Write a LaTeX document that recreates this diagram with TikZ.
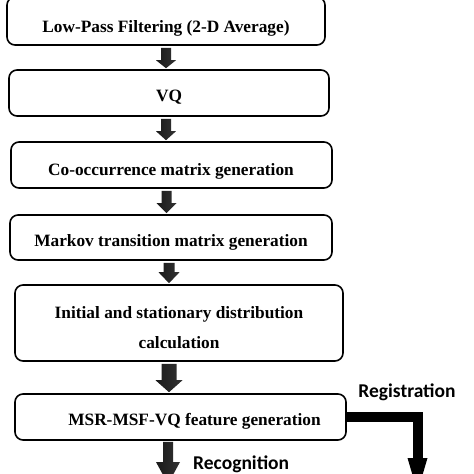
\documentclass[tikz,border=0pt]{standalone}
\usepackage{fontspec}
\setmainfont{Liberation Serif}
\newfontfamily\labelfont{Carlito}
\usetikzlibrary{calc}
\begin{document}
\begin{tikzpicture}[x=1pt,y=-1pt,
  stagebox/.style={draw=black, line width=1.6pt, rounded corners=8pt, inner sep=0pt, fill=white},
  steptext/.style={font=\bfseries\fontsize{17.3}{20}\selectfont, inner sep=0pt, anchor=base},
  sidelabel/.style={font=\labelfont\bfseries\fontsize{19.5}{22}\selectfont, inner sep=0pt, anchor=base},
  blockshade/.style={left color=black!90, middle color=black!45, right color=black!80},
  regline/.style={line width=10pt, line join=miter, draw=black}]
\useasboundingbox (0,0) rectangle (474,474);
\fill[white] (0,0) rectangle (474,474);

% boxes
\node[stagebox, minimum width=318pt, minimum height=48pt] (b1) at (166,21) {};
\node[stagebox, minimum width=320pt, minimum height=46pt] (b2) at (169,93) {};
\node[stagebox, minimum width=321pt, minimum height=46pt] (b3) at (171.5,165) {};
\node[stagebox, minimum width=322pt, minimum height=45pt] (b4) at (171,237.5) {};
\node[stagebox, minimum width=328pt, minimum height=76pt] (b5) at (179,323) {};
\node[stagebox, minimum width=331pt, minimum height=46pt] (b6) at (180.5,417) {};

% texts
\node[steptext] (t1) at (166,32) {Low-Pass Filtering (2-D Average)};
\node[steptext] (t2) at (169,101) {VQ};
\node[steptext] (t3) at (171,175) {Co-occurrence matrix generation};
\node[steptext] (t4) at (171,246) {Markov transition matrix generation};
\node[steptext] (t5a) at (179,318) {Initial and stationary distribution};
\node[steptext] (t5b) at (179,348) {calculation};
\node[steptext] (t6) at (194.5,425) {MSR-MSF-VQ feature generation};

\node[sidelabel] (lreg) at (407,397) {Registration};
\node[sidelabel, anchor=base west] (lrec) at (193,469.5) {Recognition};

% block arrows between boxes
\newcommand\blockarrow[6]{%
  \path[blockshade] let \p1=(#1.south), \p2=(#2.north) in
   (#3pt-#4pt,\y1-2pt) -- (#3pt+#4pt,\y1-2pt) -- (#3pt+#4pt,\y2+1pt+#6pt)
   -- (#3pt+#5pt,\y2+1pt+#6pt) -- (#3pt,\y2+1pt) -- (#3pt-#5pt,\y2+1pt+#6pt)
   -- (#3pt-#4pt,\y2+1pt+#6pt) -- cycle;}
\blockarrow{b1}{b2}{166}{5}{10}{8}
\blockarrow{b2}{b3}{166}{5}{10}{9}
\blockarrow{b3}{b4}{166.5}{5}{10}{10}
\blockarrow{b4}{b5}{169}{5.5}{10.5}{11}
\blockarrow{b5}{b6}{169}{7.5}{13.5}{12}

% recognition arrow
\coordinate (recend) at (168,484);
\path[blockshade] let \p1=(b6.south), \p2=(recend) in
  (163pt,\y1-1pt) -- (173pt,\y1-1pt) -- (173pt,\y2+22pt) -- (180pt,\y2+22pt)
  -- (168pt,\y2) -- (156pt,\y2+22pt) -- (163pt,\y2+22pt) -- cycle;

% registration arrow
\coordinate (regcorner) at (417.5,417);
\coordinate (regend) at (417.5,492);
\draw[regline] (b6.east) -- (regcorner) -- ($(regend)+(0,-34)$);
\fill[black] ($(regend)+(-10,-34)$) -- ($(regend)+(10,-34)$) -- (regend) -- cycle;
\end{tikzpicture}
\end{document}
